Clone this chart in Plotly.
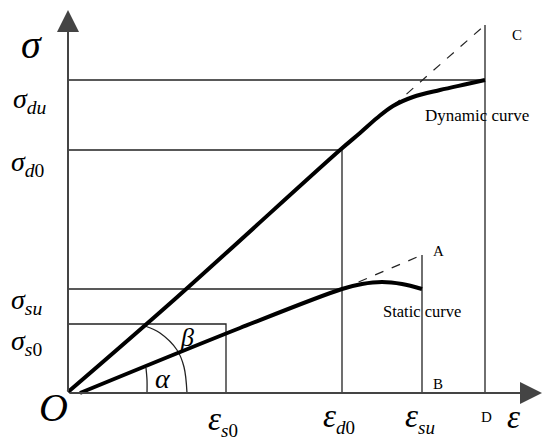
import plotly.graph_objects as go

# key strain / stress levels (arbitrary units, origin at O)
eps_s0 = 1.58
eps_d0 = 2.74
eps_su = 3.54
eps_D = 4.17
sig_s0 = 0.69
sig_su = 1.04
sig_d0 = 2.43
sig_du = 3.13
sig_A = 1.38
sig_C = 3.68

# dynamic curve
dyn_x = [0.0, 1.07, 2.72, 2.92, 3.09, 3.25, 3.45, 3.72, 3.99, 4.17]
dyn_y = [0.01, 0.94, 2.43, 2.60, 2.75, 2.87, 2.96, 3.03, 3.09, 3.13]

# static curve
sta_x = [0.12, 1.72, 2.74, 2.94, 3.14, 3.34, 3.54]
sta_y = [0.0, 0.65, 1.04, 1.09, 1.11, 1.09, 1.04]

# dashed linear extensions
dyn_dash_x = [3.25, eps_D]
dyn_dash_y = [2.87, sig_C]
sta_dash_x = [eps_d0, eps_su]
sta_dash_y = [sig_su, sig_A]

# angle arcs
alpha_x = [0.79, 0.79, 0.78]
alpha_y = [0.0, 0.13, 0.25]
beta_x = [1.19, 1.16, 1.09, 0.92, 0.77]
beta_y = [0.0, 0.26, 0.43, 0.60, 0.67]

# axis ends
x_end = 4.74
y_end = 3.83

serif = "Liberation Serif"
thin = dict(color="#222", width=1.3)

fig = go.Figure()

def seg(xs, ys, line, shape="linear"):
    fig.add_trace(go.Scatter(x=xs, y=ys, mode="lines", line=dict(shape=shape, **line),
                             hoverinfo="skip", showlegend=False))

# guide lines
seg([0, eps_D], [sig_du, sig_du], thin)
seg([0, eps_d0, eps_d0], [sig_d0, sig_d0, 0], thin)
seg([0, eps_d0], [sig_su, sig_su], thin)
seg([0, eps_s0, eps_s0], [sig_s0, sig_s0, 0], thin)
seg([eps_su, eps_su], [0, sig_A], thin)
seg([eps_D, eps_D], [0, sig_C], thin)

# dashed extensions
seg(dyn_dash_x, dyn_dash_y, dict(color="#222", width=1.2, dash="dash"))
seg(sta_dash_x, sta_dash_y, dict(color="#222", width=1.2, dash="dash"))

# arcs
seg(alpha_x, alpha_y, thin, "spline")
seg(beta_x, beta_y, thin, "spline")

# curves
seg(dyn_x, dyn_y, dict(color="black", width=4), "spline")
seg(sta_x, sta_y, dict(color="black", width=4), "spline")

# axes with arrows
for tx, ty in [(0, y_end), (x_end, 0)]:
    fig.add_annotation(x=tx, y=ty, ax=0, ay=0, xref="x", yref="y", axref="x", ayref="y",
                       text="", showarrow=True, arrowhead=2, arrowsize=2.2,
                       arrowwidth=2, arrowcolor="#444", standoff=0)

def eps_label(sub):
    return "<i>ε</i><sub><span style='font-size:19px'>" + sub + "</span></sub>"

# labels
labels = [
    ("<i>σ</i>", -0.37, 3.49, 40, "center"),
    ("<i>σ</i><sub><i>du</i></sub>", -0.57, 2.93, 28, "left"),
    ("<i>σ</i><sub><i>d</i>0</sub>", -0.59, 2.30, 28, "left"),
    ("<i>σ</i><sub><i>su</i></sub>", -0.59, 0.92, 28, "left"),
    ("<i>σ</i><sub><i>s</i>0</sub>", -0.59, 0.51, 28, "left"),
    ("<i>O</i>", -0.15, -0.14, 40, "center"),
    (eps_label("<i>s</i>0"), 1.38, -0.28, 33, "left"),
    (eps_label("<i>d</i>0"), 2.53, -0.25, 33, "left"),
    (eps_label("<i>su</i>"), 3.35, -0.25, 33, "left"),
    ("<i>ε</i>", 4.45, -0.24, 33, "center"),
    ("<i>α</i>", 0.95, 0.15, 28, "center"),
    ("<i>β</i>", 1.19, 0.56, 26, "center"),
    ("D", 4.18, -0.24, 15, "center"),
    ("A", 3.70, 1.42, 15, "center"),
    ("B", 3.70, 0.09, 15, "center"),
    ("C", 4.49, 3.58, 15, "center"),
    ("Dynamic curve", 4.09, 2.78, 17, "center"),
    ("Static curve", 3.54, 0.82, 16.5, "center"),
]
for txt, lx, ly, size, anchor in labels:
    fig.add_annotation(x=lx, y=ly, xref="x", yref="y", text=txt, showarrow=False,
                       xanchor=anchor, yanchor="middle",
                       font=dict(family=serif, size=size, color="black"))

# page body has an 8px margin, so the figure is a bit smaller and the ranges shifted
fig.update_xaxes(range=[-0.60, 4.82], visible=False)
fig.update_yaxes(range=[-0.50, 3.85], visible=False)
fig.update_layout(width=542, height=435, autosize=False,
                  margin=dict(l=0, r=0, t=0, b=0),
                  plot_bgcolor="white", paper_bgcolor="white")

fig.write_html("out.html")
